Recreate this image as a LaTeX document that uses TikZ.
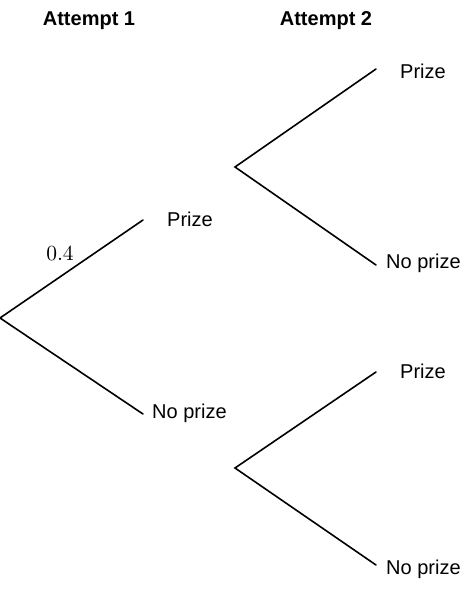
\documentclass[tikz,border=0pt]{standalone}
\usepackage{fontspec}
\setsansfont{Liberation Sans}
\newfontfamily\lmten{lmroman10-regular}[Extension=.otf]
\begin{document}
\begin{tikzpicture}[x=1pt,y=-1pt,
  branch/.style={line width=1.6pt,line cap=round},
  lbl/.style={font=\sffamily\fontsize{20}{20}\selectfont,inner sep=0pt,anchor=west,text height=0.72em,text depth=0pt},
  head/.style={font=\sffamily\bfseries\fontsize{20}{20}\selectfont,inner sep=0pt,text height=0.72em,text depth=0pt},
  prob/.style={font=\lmten\fontsize{21.5}{21.5}\selectfont,inner sep=0pt}]
\useasboundingbox (0,0) rectangle (474,591);
\node[head] (h1) at (89,22) {Attempt 1};
\node[head] (h2) at (326,22) {Attempt 2};
\coordinate (r) at (0,318);
\coordinate (a) at (143,220);
\coordinate (b) at (143,414);
\coordinate (c) at (235,167);
\coordinate (d) at (376,69);
\coordinate (e) at (376,265);
\coordinate (f) at (235,468);
\coordinate (g) at (376,372);
\coordinate (h) at (376,565);
\draw[branch] (a) -- (r) -- (b);
\draw[branch] (d) -- (c) -- (e);
\draw[branch] (g) -- (f) -- (h);
\node[prob] (p) at (60,253) {0.4};
\node[lbl] (la) at (167,223) {Prize};
\node[lbl] (lb) at (152,415) {No prize};
\node[lbl] (ld) at (400,75) {Prize};
\node[lbl] (le) at (386,265) {No prize};
\node[lbl] (lg) at (400,375) {Prize};
\node[lbl] (lh) at (386,571) {No prize};
\end{tikzpicture}
\end{document}
